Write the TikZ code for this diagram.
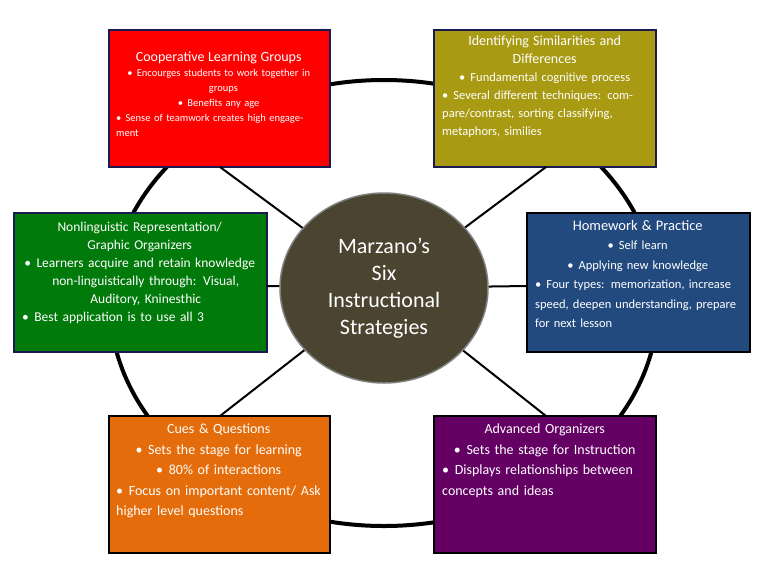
\documentclass[tikz,border=0pt]{standalone}
\usetikzlibrary{shapes.geometric}
\usepackage{fontspec}
\setmainfont{Carlito}
\definecolor{cred}{HTML}{FF0000}
\definecolor{colive}{HTML}{A89A12}
\definecolor{cgreen}{HTML}{007A0A}
\definecolor{cblue}{HTML}{234A7E}
\definecolor{corange}{HTML}{E46C0A}
\definecolor{cpurple}{HTML}{640064}
\definecolor{ccenter}{HTML}{4A4430}
\definecolor{cbord}{HTML}{1A1A50}
\newcommand{\bul}[1]{\par\hangindent=0.9em\hangafter=1\makebox[0.9em][l]{\textbullet}#1}
\tikzset{
 lnk/.style={line width=2pt,black}
}
\begin{document}
\begin{tikzpicture}[x=1pt,y=-1pt]
\useasboundingbox (0,0) rectangle (768,576);
\draw[line width=4pt] (384,303) ellipse [x radius=274,y radius=223];
\node[draw=gray,line width=1.5pt,fill=ccenter,ellipse,minimum width=208,minimum height=190,inner sep=0pt,text=white,align=center,font=\fontsize{22}{27}\selectfont] (c) at (384,288) {Marzano's\\Six\\Instructional\\Strategies};
\fill[draw=cbord,line width=1.8pt,fill=cred] (109,30) rectangle (330,167);
\node[text=white,text width=205,align=left,anchor=north west,inner sep=0pt,font=\fontsize{10.5}{15}\selectfont] (t1) at (116,52) {\centering{\fontsize{14}{16}\selectfont Cooperative Learning Groups}\par
\bul{Encourges students to work together in groups}
\bul{Benefits any age}
\bul{Sense of teamwork creates high engagement}};
\coordinate (b1) at (220,167);
\fill[draw=cbord,line width=1.8pt,fill=colive] (434,30) rectangle (656,167);
\node[text=white,text width=205,anchor=north west,inner sep=0pt,font=\fontsize{12.5}{18}\selectfont] (t2) at (442,36) {\centering{\fontsize{14}{18}\selectfont Identifying Similarities and Differences}\par
\bul{Fundamental cognitive process}
\bul{Several different techniques: compare/contrast, sorting classifying, metaphors, similies}};
\coordinate (b2) at (546,167);
\fill[draw=cbord,line width=1.8pt,fill=cgreen] (14,213) rectangle (267,352);
\node[text=white,text width=235,anchor=north west,inner sep=0pt,font=\fontsize{13.5}{18}\selectfont] (t3) at (22,222) {\centering{\fontsize{13.5}{17}\selectfont Nonlinguistic Representation/\\ Graphic Organizers}\par
\bul{Learners acquire and retain knowledge non-linguistically through: Visual, Auditory, Kninesthic}
\bul{Best application is to use all 3}};
\coordinate (b3) at (267,286);
\fill[draw=black,line width=1.8pt,fill=cblue] (527,213) rectangle (750,352);
\node[text=white,text width=205,anchor=north west,inner sep=0pt,font=\fontsize{12.5}{19.5}\selectfont] (t4) at (535,220) {\centering{\fontsize{14.5}{19}\selectfont Homework \& Practice}\par
\bul{Self learn}
\bul{Applying new knowledge}
\bul{Four types: memorization, increase speed, deepen understanding, prepare for next lesson}};
\coordinate (b4) at (527,286);
\fill[draw=black,line width=1.8pt,fill=corange] (109,416) rectangle (330,553);
\node[text=white,text width=205,anchor=north west,inner sep=0pt,font=\fontsize{14}{20.5}\selectfont] (t5) at (116,424) {\centering{\fontsize{14}{19}\selectfont Cues \& Questions}\par
\bul{Sets the stage for learning}
\bul{80\% of interactions}
\bul{Focus on important content/ Ask higher level questions}};
\coordinate (b5) at (220,416);
\fill[draw=black,line width=1.8pt,fill=cpurple] (434,416) rectangle (656,553);
\node[text=white,text width=205,anchor=north west,inner sep=0pt,font=\fontsize{14}{20.5}\selectfont] (t6) at (442,424) {\centering{\fontsize{14}{19}\selectfont Advanced Organizers}\par
\bul{Sets the stage for Instruction}
\bul{Displays relationships between concepts and ideas}};
\coordinate (b6) at (546,416);
\foreach \b in {b1,b2,b3,b4,b5,b6} \draw[lnk] (\b) -- (c);
\end{tikzpicture}
\end{document}
